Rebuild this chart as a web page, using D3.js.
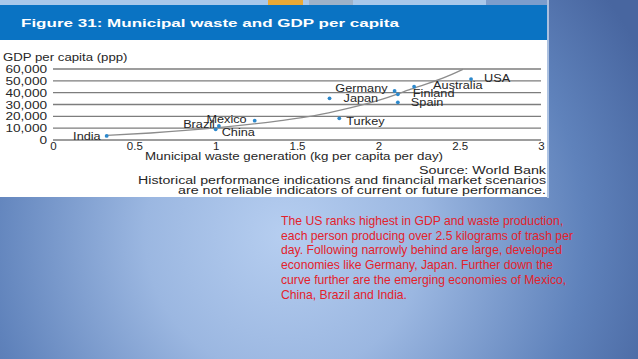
<!DOCTYPE html>
<style>
body { margin: 0; overflow: hidden; }
text { font-family: "Liberation Sans", Arial, sans-serif; }
.chart-text { fill: #262626; font-size: 10px; }
.grid line { stroke: #7d7d7d; stroke-width: 1.3; }
.trend { fill: none; stroke: #8c8c8c; stroke-width: 1.3; }
.dot { fill: #2b88cc; }
.note { fill: #e3222c; font-size: 12.2px; }
</style>
<body>
<script src="https://cdnjs.cloudflare.com/ajax/libs/d3/7.8.5/d3.min.js"></script>
<script>
var width = 638;
var height = 359;

var countries = ["India", "Brazil", "China", "Mexico", "Turkey", "Japan", "Germany", "Finland", "Spain", "Australia", "USA"];
var wastePerDay = [0.33, 1.02, 1.00, 1.24, 1.76, 1.70, 2.10, 2.12, 2.12, 2.22, 2.57];
var gdpPerCapita = [3000, 11400, 8600, 15900, 17900, 34800, 41000, 38200, 31400, 44600, 51100];

// trend curve as drawn in the figure
var trendWaste = [0.33, 0.6, 1.0, 1.4, 1.6, 1.8, 2.0, 2.2, 2.4, 2.52];
var trendGdp = [3400, 5500, 9800, 16000, 20000, 25800, 33000, 42500, 52000, 59300];

var xTicks = [0, 0.5, 1, 1.5, 2, 2.5, 3];
var yTicks = [0, 10000, 20000, 30000, 40000, 50000, 60000];

var noteLines = [
  "The US ranks highest in GDP and waste production,",
  "each person producing over 2.5 kilograms of trash per",
  "day. Following narrowly behind are large, developed",
  "economies like Germany, Japan. Further down the",
  "curve further are the emerging economies of Mexico,",
  "China, Brazil and India."
];

// where each country name sits next to its dot
var labelPlace = {
  India: [-6, 4, "end"],
  Brazil: [-4, 2, "end"],
  China: [6, 7, "start"],
  Mexico: [-8, 2, "end"],
  Turkey: [7, 7, "start"],
  Japan: [14, 4, "start"],
  Germany: [-7, 1, "end"],
  Finland: [15, 3, "start"],
  Spain: [13, 4, "start"],
  Australia: [19, 2, "start"],
  USA: [13, 3, "start"]
};

var points = countries.map(function(c, i) {
  return {country: c, waste: wastePerDay[i], gdp: gdpPerCapita[i]};
});
var trend = trendWaste.map(function(w, i) { return [w, trendGdp[i]]; });

var svg = d3.select("body")
            .append("svg")
            .attr("width", width)
            .attr("height", height);

var defs = svg.append("defs");
var bg = defs.append("radialGradient")
    .attr("id", "slide-bg")
    .attr("gradientUnits", "userSpaceOnUse")
    .attr("cx", 285).attr("cy", 235).attr("r", 400);
bg.append("stop").attr("offset", 0).attr("stop-color", "#b6cef0");
bg.append("stop").attr("offset", 0.35).attr("stop-color", "#9bb7e1");
bg.append("stop").attr("offset", 0.75).attr("stop-color", "#5f82bb");
bg.append("stop").attr("offset", 1).attr("stop-color", "#4866a0");

svg.append("rect").attr("width", width).attr("height", height).attr("fill", "url(#slide-bg)");

// pasted figure
svg.append("rect").attr("x", 0).attr("y", 0).attr("width", 547).attr("height", 5).attr("fill", "#a9c8ea");
svg.append("rect").attr("x", 268).attr("y", 0).attr("width", 35).attr("height", 5).attr("fill", "#eaa936");
svg.append("rect").attr("x", 309).attr("y", 0).attr("width", 44).attr("height", 5).attr("fill", "#9fb2c8");
svg.append("rect").attr("x", 486).attr("y", 0).attr("width", 61).attr("height", 5).attr("fill", "#7c9dcc");
svg.append("rect").attr("x", 0).attr("y", 5).attr("width", 547).attr("height", 35).attr("fill", "#0a73c3");
svg.append("rect").attr("x", 0).attr("y", 40).attr("width", 547).attr("height", 157).attr("fill", "#fff");
svg.append("line").attr("x1", 548).attr("x2", 548).attr("y1", 0).attr("y2", 198)
   .attr("stroke", "#c9d8ee").attr("stroke-width", 1.5);

function stretch(sel, k) {
  sel.each(function() {
    var len = this.getComputedTextLength();
    d3.select(this).attr("textLength", len * k).attr("lengthAdjust", "spacingAndGlyphs");
  });
}

svg.append("text")
   .attr("x", 21).attr("y", 26.5)
   .attr("fill", "#fff")
   .attr("font-size", "11.5px")
   .attr("font-weight", "bold")
   .attr("textLength", 378)
   .attr("lengthAdjust", "spacingAndGlyphs")
   .text("Figure 31: Municipal waste and GDP per capita");

var x = d3.scaleLinear().domain([0, 3]).range([53, 541]);
var y = d3.scaleLinear().domain([0, 60000]).range([139.5, 68.5]);

var yAxis = svg.append("g")
   .attr("class", "grid")
   .attr("transform", "translate(53,0)")
   .call(d3.axisLeft(y).tickValues(yTicks).tickFormat(d3.format(","))
         .tickSize(-(541 - 53)).tickPadding(6));
yAxis.select(".domain").remove();
yAxis.selectAll("text")
   .attr("class", "chart-text")
   .attr("font-size", "10.5px")
   .attr("dy", "0.4em")
   .call(stretch, 1.36);

var xAxis = svg.append("g")
   .attr("transform", "translate(0,139.5)")
   .call(d3.axisBottom(x).tickValues(xTicks).tickFormat(d3.format("")).tickSize(0).tickPadding(3.4));
xAxis.select(".domain").remove();
xAxis.selectAll("text")
   .attr("class", "chart-text")
   .attr("font-size", "10.5px")
   .call(stretch, 1.15);

svg.append("text").attr("class", "chart-text")
   .attr("x", 3).attr("y", 61)
   .text("GDP per capita (ppp)")
   .call(stretch, 1.32);

svg.append("text").attr("class", "chart-text")
   .attr("x", 294).attr("y", 160)
   .attr("text-anchor", "middle")
   .attr("textLength", 298).attr("lengthAdjust", "spacingAndGlyphs")
   .text("Municipal waste generation (kg per capita per day)");

var footer = [
  ["Source: World Bank", 174, 127],
  ["Historical performance indications and financial market scenarios", 184, 408],
  ["are not reliable indicators of current or future performance.", 193.5, 368]
];
svg.selectAll(".footer")
   .data(footer)
   .enter()
   .append("text")
   .attr("class", "chart-text footer")
   .attr("x", 546)
   .attr("y", function(d) { return d[1]; })
   .attr("text-anchor", "end")
   .attr("textLength", function(d) { return d[2]; })
   .attr("lengthAdjust", "spacingAndGlyphs")
   .text(function(d) { return d[0]; });

var line = d3.line()
   .x(function(d) { return x(d[0]); })
   .y(function(d) { return y(d[1]); })
   .curve(d3.curveMonotoneX);

svg.append("path")
   .datum(trend)
   .attr("class", "trend")
   .attr("d", line);

svg.append("g")
   .selectAll("circle")
   .data(points)
   .enter()
   .append("circle")
   .attr("class", "dot")
   .attr("cx", function(d) { return x(d.waste); })
   .attr("cy", function(d) { return y(d.gdp); })
   .attr("r", 1.9);

svg.append("g")
   .selectAll("text")
   .data(points)
   .enter()
   .append("text")
   .attr("class", "chart-text")
   .attr("x", function(d) { return x(d.waste) + labelPlace[d.country][0]; })
   .attr("y", function(d) { return y(d.gdp) + labelPlace[d.country][1]; })
   .attr("text-anchor", function(d) { return labelPlace[d.country][2]; })
   .text(function(d) { return d.country; })
   .call(stretch, 1.27);

svg.append("g")
   .selectAll("text")
   .data(noteLines)
   .enter()
   .append("text")
   .attr("class", "note")
   .attr("x", 281)
   .attr("y", function(d, i) { return 225 + i * 14.7; })
   .text(function(d) { return d; });
</script>
</body>
